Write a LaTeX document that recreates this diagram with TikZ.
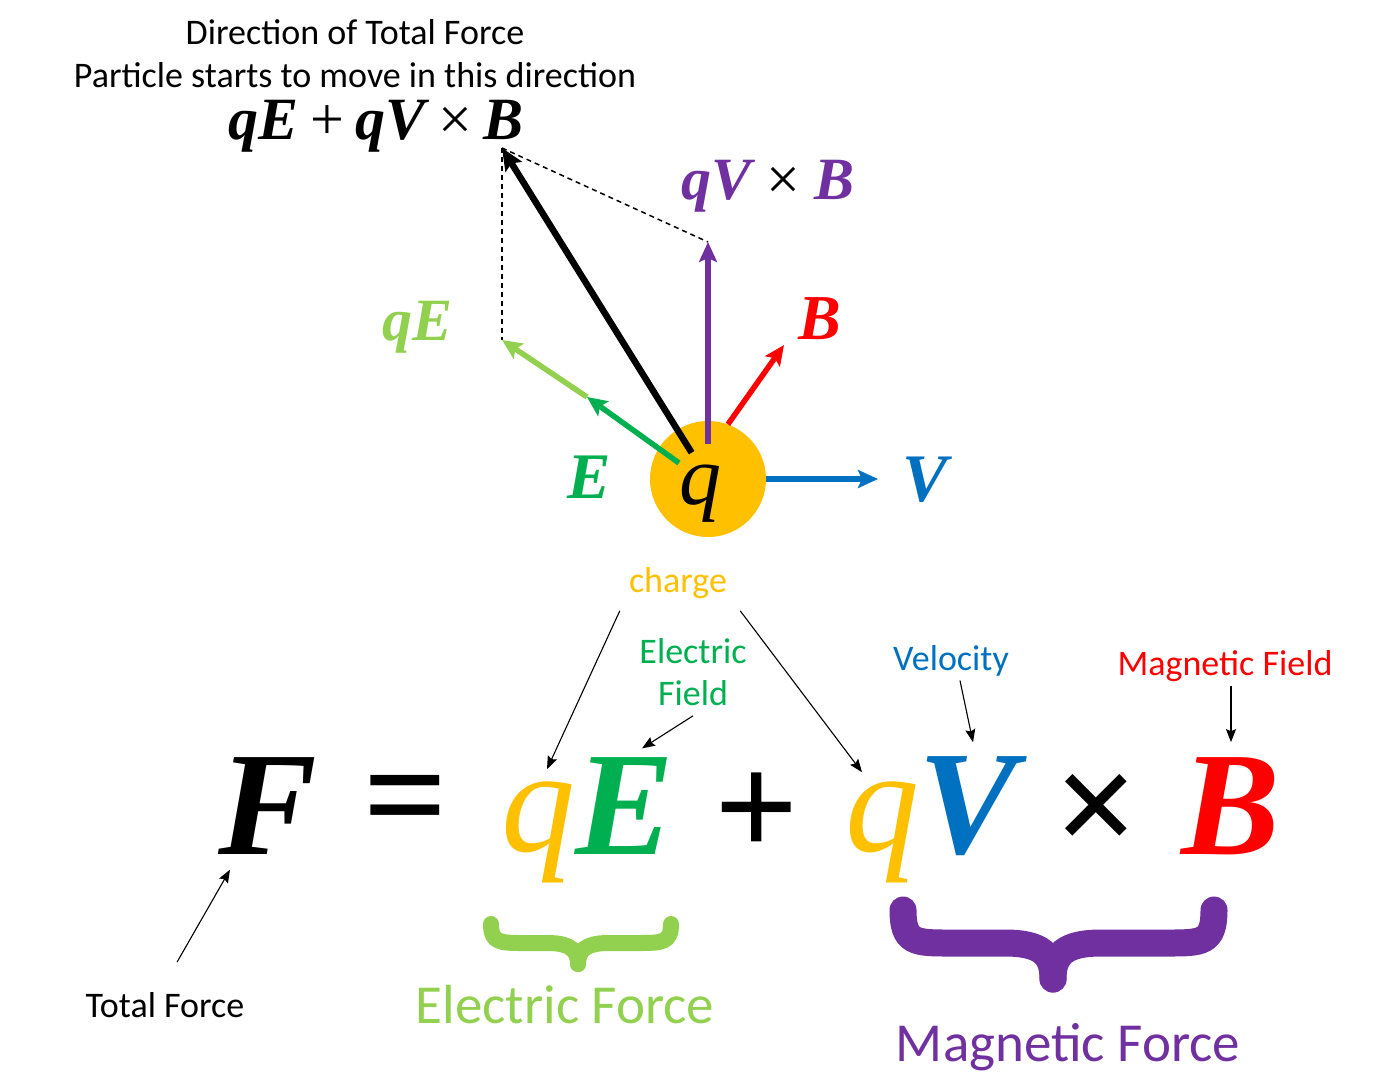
\documentclass[tikz,border=0pt]{standalone}
\usepackage{fontspec}
\setmainfont{Carlito}
\newfontfamily\serifsym{Liberation Serif}
\usepackage{tikz}
\usetikzlibrary{arrows.meta,positioning}

\definecolor{gold}{HTML}{FFC000}
\definecolor{efield}{HTML}{00B050}
\definecolor{lightgreen}{HTML}{92D050}
\definecolor{vblue}{HTML}{0070C0}
\definecolor{bred}{HTML}{FF0000}
\definecolor{mpurple}{HTML}{7030A0}

\newcommand{\boldsym}[1]{{\serifsym\bfseries\itshape #1}}
\newcommand{\italsym}[1]{{\serifsym\itshape #1}}
\newcommand{\uprsym}[1]{{\serifsym #1}}

\begin{document}
\begin{tikzpicture}[x=1pt,y=-1pt,
    lbl/.style={font=\fontsize{36}{42}\selectfont,inner sep=0pt},
    biglbl/.style={font=\fontsize{55}{60}\selectfont,inner sep=0pt},
    sym/.style={font=\fontsize{60}{62}\selectfont,inner sep=0pt},
    big/.style={font=\fontsize{148}{150}\selectfont,inner sep=0pt},
    vec/.style={line width=5.5pt,-{Stealth[length=20pt,width=18pt,inset=4pt]}},
    note/.style={line width=1.1pt,-{Stealth[length=13pt,width=10pt,inset=2pt]}},
    guide/.style={line width=1.5pt,dash pattern=on 5pt off 4pt}]
    \useasboundingbox (0,0) rectangle (1383,1077);

    % Heading
    \node[lbl] (dirline) at (355,32) {Direction of Total Force};
    \node[lbl] (partline) at (355,75) {Particle starts to move in this direction};
    \node[sym] (total) at (376,126) {\boldsym{qE}\hspace{0.2em}\uprsym{+}\hspace{0.2em}\boldsym{qV}\hspace{0.2em}\uprsym{×}\hspace{0.2em}\boldsym{B}};

    % Charge and vectors
    \node[circle,fill=gold,minimum size=116pt,inner sep=0pt] (qc) at (708,479) {};
    \coordinate (ftip) at (502,148);
    \coordinate (mtip) at (708,242);
    \coordinate (btip) at (784,345);
    \coordinate (etip) at (587,397);
    \coordinate (qetip) at (502,340);
    \coordinate (vtip) at (878,479);
    \coordinate (estart) at (679,463);
    \draw[guide] (ftip) -- (qetip);
    \draw[guide] (ftip) -- (mtip);
    \draw[vec,lightgreen] (etip) -- (qetip);
    \draw[vec,efield] (estart) -- (etip);
    \draw[vec,mpurple,shorten <=35pt] (qc.center) -- (mtip);
    \draw[vec,bred] (qc.70) -- (btip);
    \draw[vec,vblue] (qc.east) -- (vtip);
    \draw[vec,line width=6.5pt,-{Stealth[length=22pt,width=19pt,inset=4pt]},shorten <=31pt] (qc.center) -- (ftip);
    \node[font=\fontsize{84}{86}\selectfont,inner sep=0pt] (qq) at (700,494) {\italsym{q}};

    % Vector labels
    \node[sym,mpurple] (qvblbl) at (768,186) {\boldsym{qV}\hspace{0.25em}\textcolor{black}{\uprsym{×}}\hspace{0.25em}\boldsym{B}};
    \node[sym,font=\fontsize{64}{66}\selectfont,bred] (blbl) at (820,319) {\boldsym{B}};
    \node[sym,lightgreen] (qelbl) at (418,327) {\boldsym{qE}};
    \node[sym,font=\fontsize{65}{67}\selectfont,efield] (elbl) at (589,477) {\boldsym{E}};
    \node[sym,font=\fontsize{68}{70}\selectfont,vblue] (vlbl) at (925,480) {\boldsym{V}};

    % Lorentz force equation
    \node[big] (F1) at (268,806) {\boldsym{F}};
    \node[big] (eq) at (406,810) {\uprsym{\bfseries =}};
    \node[big,gold] (q1) at (538,832) {\italsym{q}};
    \node[big,efield] (E1) at (625,806) {\boldsym{E}};
    \node[big] (plus) at (757,815) {\uprsym{\bfseries +}};
    \node[big,gold] (q2) at (882,832) {\italsym{q}};
    \node[big,vblue] (V1) at (968,806) {\boldsym{V}};
    \node[big] (times) at (1097,814) {\uprsym{\bfseries ×}};
    \node[big,bred] (B1) at (1231,806) {\boldsym{B}};

    % Term labels
    \node[lbl,gold] (charge) at (678,583) {charge};
    \node[lbl,efield,align=center] (efieldlbl) at (693,672) {Electric\\Field};
    \node[lbl,vblue] (vel) at (951,661) {Velocity};
    \node[lbl,bred] (mfield) at (1225,666) {Magnetic Field};
    \node[lbl] (tforce) at (165,1005) {Total Force};
    \draw[note] ([shift={(-9pt,-12pt)}]charge.south west) -- ([shift={(9pt,12pt)}]q1.north);
    \draw[note] ([shift={(13pt,-12pt)}]charge.south east) -- ([shift={(-20pt,9pt)}]q2.north);
    \draw[note] ([shift={(0pt,-10pt)}]efieldlbl.south) -- ([shift={(17pt,9pt)}]E1.north);
    \draw[note] ([shift={(9pt,-4pt)}]vel.south) -- ([shift={(5pt,14pt)}]V1.north);
    \draw[note] ([shift={(6pt,-4pt)}]mfield.south) -- ([shift={(0pt,15pt)}]B1.north);
    \draw[note] ([shift={(12pt,30pt)}]tforce.north) -- ([shift={(-38pt,-15pt)}]F1.south);

    % Braces
    \draw[lightgreen,line width=16pt,line cap=round] (491,924) .. controls (491,943) and (500,943) .. (525,943) -- (548,943) .. controls (572,943) and (578,952) .. (578,964);
    \draw[lightgreen,line width=16pt,line cap=round] (671,924) .. controls (671,943) and (662,943) .. (637,943) -- (608,943) .. controls (584,943) and (578,952) .. (578,964);
    \draw[mpurple,line width=27pt,line cap=round] (903,910) .. controls (903,943) and (915,943) .. (950,943) -- (1005,943) .. controls (1042,943) and (1053,955) .. (1053,979);
    \draw[mpurple,line width=27pt,line cap=round] (1214,910) .. controls (1214,943) and (1202,943) .. (1167,943) -- (1101,943) .. controls (1064,943) and (1053,955) .. (1053,979);
    \node[biglbl,lightgreen] (eforce) at (565,1005) {Electric Force};
    \node[biglbl,mpurple] (mforce) at (1068,1047) {Magnetic Force};
\end{tikzpicture}
\end{document}
